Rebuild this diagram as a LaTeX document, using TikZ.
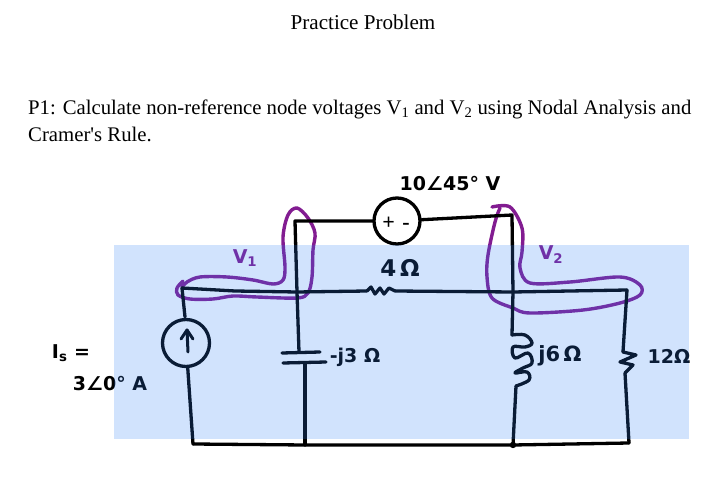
\documentclass[tikz,border=0pt]{standalone}
\usepackage{fontspec}
\setmainfont{Liberation Serif}
\newfontfamily\plainserif{Liberation Serif}
\newfontfamily\handfont{DejaVu Sans}
\definecolor{loopcol}{RGB}{130,28,145}
\definecolor{sheet}{rgb}{0.18,0.5,0.97}
\tikzset{
  x=1pt,y=-1pt,
  wire/.style={line width=3.3pt,black,line cap=round,line join=round},
  loopline/.style={line width=3.4pt,loopcol,line cap=round,line join=round},
  srcbox/.style={circle,draw=black,line width=3.3pt,inner sep=0pt},
  hand/.style={font=\handfont\bfseries\fontsize{19}{21}\selectfont,inner sep=0pt,text=black},
  handbig/.style={hand,font=\handfont\bfseries\fontsize{23}{23}\selectfont},
  printed/.style={inner sep=0pt,text=black}
}
\begin{document}
\begin{tikzpicture}
\useasboundingbox (0,0) rectangle (713,489);
% printed text
\node[printed,font=\plainserif\fontsize{21.1}{26}\selectfont] (title) at (363,22) {Practice Problem};
\node[printed,anchor=north west,align=left,font=\plainserif\fontsize{20.75}{26.5}\selectfont] (problem) at (28,100)
  {P1: Calculate non-reference node voltages V\textsubscript{1} and V\textsubscript{2} using Nodal Analysis and\\Cramer's Rule.};
% purple node loops
\draw[loopline] plot[smooth,tension=.55] coordinates {(183,281) (177,288) (178,295) (190,299) (213,299) (233,296) (257,297) (297,298) (308,293) (312,277) (313,250) (315,233) (308,218) (297,208) (288,215) (283,237) (285,267) (283,280) (273,284) (253,280) (227,277) (200,277) (187,282) (182,287)};
\draw[loopline] plot[smooth,tension=.55] coordinates {(492,207) (510,207) (522,228) (522,252) (520,268) (530,283) (570,282) (620,277) (640,285) (640,295) (620,303) (583,310) (530,313) (513,308) (492,298) (487,277) (488,255) (495,222) (500,208)};
% junctions
\coordinate (nTL) at (182,288);
\coordinate (n1) at (297,292);
\coordinate (n1up) at (295,221);
\coordinate (n2) at (513,292);
\coordinate (n2up) at (512,215);
\coordinate (nTR) at (627,290);
\coordinate (gL) at (193,444);
\coordinate (gC) at (305,445);
\coordinate (gI) at (513,445);
\coordinate (gR) at (629,443);
% sources
\node[srcbox,minimum size=46pt] (vs) at (397,221) {};
\node[font=\bfseries\fontsize{22}{22}\selectfont,inner sep=0pt] (vsign) at (396,223) {+\,\,-};
\node[srcbox,minimum size=47pt] (cs) at (186,343) {};
\coordinate (csT) at (187,330);
\coordinate (csB) at (188,352);
\draw[wire,line width=3pt] (csB) -- (csT);
\draw[wire,line width=3pt] (181,339) -- (csT) -- (193,339);
% top row
\draw[wire] (n1) -- (n1up) -- (vs);
\draw[wire] (vs) -- (n2up) -- (n2);
% main node wires
\coordinate (r4a) at (367,291);
\coordinate (r4b) at (395,291);
\draw[wire] (nTL) -- (235,291) -- (n1) -- (r4a);
\draw[wire] (r4a) -- (371,287) -- (375,294) -- (380,288) -- (384,294) -- (389,288) -- (r4b);
\draw[wire] (r4b) -- (n2) -- (nTR);
% current source branch
\draw[wire] (nTL) -- (185,317);
\draw[wire] (cs) -- (gL);
% capacitor branch
\draw[wire] (n1) -- (299,352);
\draw[wire] (282,353) -- (320,352);
\draw[wire] (283,363) -- (326,362);
\draw[wire] (305,363) -- (gC);
% inductor branch
\coordinate (indA) at (512,335);
\coordinate (indB) at (516,386);
\draw[wire] (n2) -- (indA);
\draw[wire] plot[smooth,tension=.65] coordinates {(indA) (525,335) (532,343) (525,347) (513,347) (515,358) (528,353) (532,363) (523,368) (515,373) (527,372) (529,380) (indB)};
\draw[wire] (indB) -- (gI);
% 12 ohm branch
\coordinate (rRa) at (623,352);
\coordinate (rRb) at (625,373);
\draw[wire] (nTR) -- (rRa);
\draw[wire] (rRa) -- (636,355) -- (620,362) -- (633,365) -- (rRb);
\draw[wire] (rRb) -- (gR);
% return wire
\draw[wire] (gL) -- (gC) -- (gI) -- (gR);
\fill[black] (gI) circle (3.2pt);
% hand labels
\node[hand] (lV) at (450,184) {10∠45° V};
\node[hand] (lI) at (71,353) {I\textsubscript{s} =};
\node[hand] (lA) at (110,384) {3∠0° A};
\node[handbig] (lR) at (400,268) {4\,Ω};
\node[hand] (lC) at (355,357) {-j3 Ω};
\node[handbig,font=\handfont\bfseries\fontsize{21}{21}\selectfont] (lL) at (560,356) {j6\,Ω};
\node[hand] (lT) at (669,356) {12Ω};
\node[hand,text=loopcol] (lV1) at (245,258) {V\textsubscript{1}};
\node[hand,text=loopcol] (lV2) at (551,255) {V\textsubscript{2}};
% translucent blue sheet lying over the drawing
\fill[sheet,opacity=.22] (114,245) rectangle (689,439);
\end{tikzpicture}
\end{document}
